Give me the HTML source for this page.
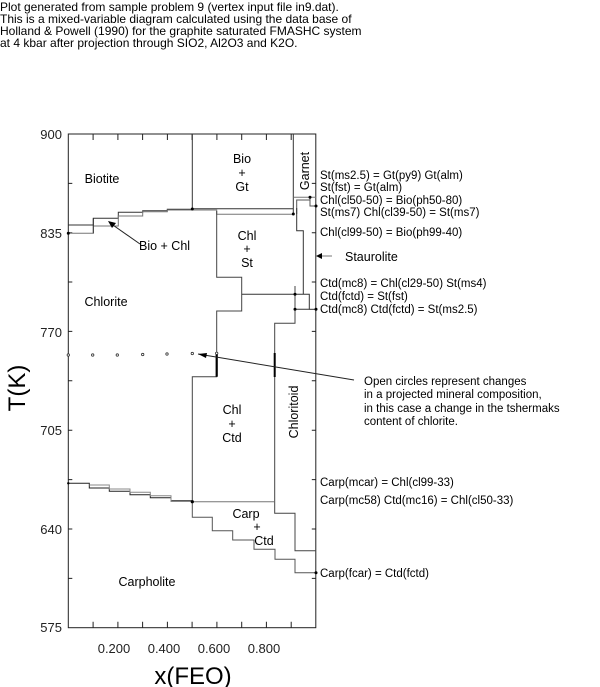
<!DOCTYPE html>
<html><head><meta charset="utf-8"><style>
html,body{margin:0;padding:0;background:#fff;}
svg{display:block;}
text{font-family:"Liberation Sans",sans-serif;fill:#000;}
.h{font-size:12px;}
.r{font-size:11.5px;}
.l{font-size:12.5px;}
.t{font-size:13px;fill:#222;}
</style></head><body>
<svg width="600" height="687" viewBox="0 0 600 687" xmlns="http://www.w3.org/2000/svg">
<text class="h" x="0" y="11">Plot generated from sample problem 9 (vertex input file in9.dat).</text>
<text class="h" x="0" y="23">This is a mixed-variable diagram calculated using the data base of</text>
<text class="h" x="0" y="35">Holland &amp; Powell (1990) for the graphite saturated FMASHC system</text>
<text class="h" x="0" y="47">at 4 kbar after projection through SIO2, Al2O3 and K2O.</text>

<!-- frame -->
<rect x="68.3" y="134" width="247.5" height="493.7" fill="none" stroke="#222" stroke-width="1"/>
<g stroke="#222" stroke-width="1">
<!-- top/bottom ticks -->
<path d="M93.1,134v6M117.9,134v6M142.6,134v6M167.4,134v6M192.1,134v6M216.9,134v6M241.7,134v6M266.4,134v6M291.2,134v6"/>
<path d="M93.1,627.7v-6M117.9,627.7v-6M142.6,627.7v-6M167.4,627.7v-6M192.1,627.7v-6M216.9,627.7v-6M241.7,627.7v-6M266.4,627.7v-6M291.2,627.7v-6"/>
<path d="M68.3,183.4h4M68.3,232.7h4M68.3,282h4M68.3,331.4h4M68.3,380.8h4M68.3,430.2h4M68.3,479.6h4M68.3,529h4M68.3,578.4h4"/>
<path d="M315.8,183.4h-4M315.8,232.7h-4M315.8,282h-4M315.8,331.4h-4M315.8,380.8h-4M315.8,430.2h-4M315.8,479.6h-4M315.8,529h-4M315.8,578.4h-4"/>
</g>
<text class="t" x="62" y="139" text-anchor="end">900</text>
<text class="t" x="62" y="238" text-anchor="end">835</text>
<text class="t" x="62" y="337" text-anchor="end">770</text>
<text class="t" x="62" y="435" text-anchor="end">705</text>
<text class="t" x="62" y="534" text-anchor="end">640</text>
<text class="t" x="62" y="632" text-anchor="end">575</text>
<text class="t" x="114" y="653" text-anchor="middle">0.200</text>
<text class="t" x="164" y="653" text-anchor="middle">0.400</text>
<text class="t" x="214" y="653" text-anchor="middle">0.600</text>
<text class="t" x="264" y="653" text-anchor="middle">0.800</text>
<text x="193" y="684" text-anchor="middle" style="font-size:24px">x(FEO)</text>
<text x="0" y="0" transform="translate(25,388) rotate(-90)" text-anchor="middle" style="font-size:24px">T(K)</text>

<g fill="none" stroke-width="1">
<!-- upper stairs -->
<path d="M68.3,225H93.3V218.3H118.3V212.3H142.7V210.7H167.3V209.3H192.3V208.7H293.3" stroke="#333"/>
<path d="M68.3,233.3H93.3V226H118.3V216H142.7V211.7H167.3V210H216.7V214.3H293.3" stroke="#777"/>
<path d="M93.3,218.3V233.3" stroke="#333"/>
<path d="M192.3,134V209" stroke="#333"/>
<!-- garnet -->
<path d="M293.3,134V214" stroke="#333"/>
<path d="M293.3,197.3H316" stroke="#777"/>
<path d="M296.7,214V200H310V197.3M310,200V206H316" stroke="#555"/>
<path d="M296.7,208V230.7H303.3V294.3" stroke="#333"/>
<!-- chl / st boundary -->
<path d="M216.7,211V277.3H241.7V311H216.7V353.3" stroke="#444"/>
<path d="M241.7,294.3H295" stroke="#333"/>
<path d="M295,294.3H309.3V309.3H295Z" stroke="#333"/>
<path d="M309.3,309.3H316" stroke="#333"/>
<path d="M295,286V323.3H274.7V513.3H295V550.7H316" stroke="#444"/>
<path d="M274.7,353V377" stroke="#000" stroke-width="2"/>
<!-- chl+ctd -->
<path d="M216.7,353.3V376.7H192.3V501.7" stroke="#444"/>
<path d="M216.7,353.3V376.7" stroke="#000" stroke-width="2.2"/>
<path d="M192.3,501.7H274.7" stroke="#777"/>
<path d="M192.3,501.7V517.3H212.3V530.7H232.7V540H254V549.3H275V559.3H295V572.7H316" stroke="#555"/>
<!-- lower left stairs -->
<path d="M68.3,483.3H89.3V488H109.3V491.3H130V494.7H150.3V497.7H171V500.7H192.3" stroke="#222"/>
<path d="M89.3,485H109.3V489H130V492.3H150.3V495.7H171V501.5H192.3" stroke="#888"/>
<!-- pointers -->
<path d="M140,244L110,223" stroke="#222"/>
<path d="M198,354L354,380" stroke="#222"/>
<path d="M332,256H318" stroke="#777"/>
</g>
<!-- arrowheads -->
<polygon points="108,221 116,223 112,228" fill="#000"/>
<polygon points="198,354 207,353 206,358" fill="#000"/>
<polygon points="316,256 322,253 322,259" fill="#000"/>
<!-- dots -->
<g fill="#000">
<circle cx="68.3" cy="233.3" r="1.5"/><circle cx="192.3" cy="209" r="1.5"/>
<circle cx="293.3" cy="214" r="1.5"/><circle cx="310" cy="197.3" r="1.5"/>
<circle cx="316" cy="206" r="1.5"/><circle cx="295" cy="294.3" r="1.5"/>
<circle cx="295" cy="309.3" r="1.5"/><circle cx="316" cy="309.3" r="1.5"/>
<circle cx="192.3" cy="501.7" r="1.6"/><circle cx="316" cy="572.7" r="1.5"/>
<circle cx="68.3" cy="483.3" r="1.2"/>
</g>
<g fill="#fff" stroke="#333" stroke-width="0.8">
<circle cx="68.3" cy="355" r="1.2"/><circle cx="92.7" cy="355" r="1.2"/><circle cx="117.3" cy="355" r="1.2"/>
<circle cx="142.7" cy="354.5" r="1.2"/><circle cx="167" cy="354" r="1.2"/><circle cx="192.3" cy="353.5" r="1.2"/>
<circle cx="216.7" cy="353.3" r="1.2"/>
</g>

<!-- region labels -->
<text class="l" x="102" y="183" text-anchor="middle">Biotite</text>
<text class="l" x="242" y="163" text-anchor="middle">Bio</text>
<text class="l" x="242" y="177" text-anchor="middle">+</text>
<text class="l" x="242" y="191" text-anchor="middle">Gt</text>
<text class="l" x="0" y="0" transform="translate(309,171) rotate(-90)" text-anchor="middle">Garnet</text>
<text class="l" x="139" y="250">Bio + Chl</text>
<text class="l" x="247" y="240" text-anchor="middle">Chl</text>
<text class="l" x="247" y="253" text-anchor="middle">+</text>
<text class="l" x="247" y="267" text-anchor="middle">St</text>
<text class="l" x="106" y="306" text-anchor="middle">Chlorite</text>
<text class="l" x="232" y="414" text-anchor="middle">Chl</text>
<text class="l" x="232" y="428" text-anchor="middle">+</text>
<text class="l" x="232" y="442" text-anchor="middle">Ctd</text>
<text class="l" x="0" y="0" transform="translate(298,412) rotate(-90)" text-anchor="middle">Chloritoid</text>
<text class="l" x="246" y="518" text-anchor="middle">Carp</text>
<text class="l" x="257" y="531" text-anchor="middle">+</text>
<text class="l" x="264" y="545" text-anchor="middle">Ctd</text>
<text class="l" x="147" y="586" text-anchor="middle">Carpholite</text>

<!-- right labels -->
<text class="r" x="320" y="179">St(ms2.5) = Gt(py9) Gt(alm)</text>
<text class="r" x="320" y="191">St(fst) = Gt(alm)</text>
<text class="r" x="320" y="204">Chl(cl50-50) = Bio(ph50-80)</text>
<text class="r" x="320" y="216">St(ms7) Chl(cl39-50) = St(ms7)</text>
<text class="r" x="320" y="236">Chl(cl99-50) = Bio(ph99-40)</text>
<text class="l" x="345" y="261">Staurolite</text>
<text class="r" x="320" y="287">Ctd(mc8) = Chl(cl29-50) St(ms4)</text>
<text class="r" x="320" y="300">Ctd(fctd) = St(fst)</text>
<text class="r" x="320" y="313">Ctd(mc8) Ctd(fctd) = St(ms2.5)</text>
<text class="r" x="364" y="385">Open circles represent changes</text>
<text class="r" x="364" y="398">in a projected mineral composition,</text>
<text class="r" x="364" y="412">in this case a change in the tshermaks</text>
<text class="r" x="364" y="425">content of chlorite.</text>
<text class="r" x="320" y="486">Carp(mcar) = Chl(cl99-33)</text>
<text class="r" x="320" y="504">Carp(mc58) Ctd(mc16) = Chl(cl50-33)</text>
<text class="r" x="320" y="577">Carp(fcar) = Ctd(fctd)</text>
</svg>
</body></html>
